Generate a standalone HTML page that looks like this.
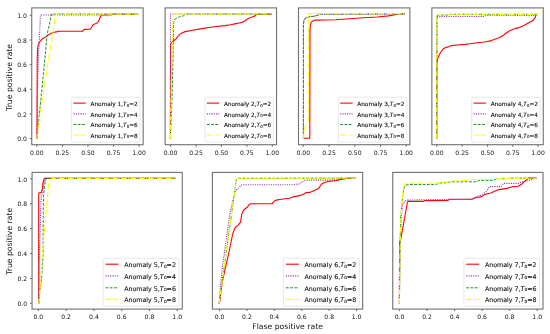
<!DOCTYPE html>
<html><head><meta charset="utf-8"><title>ROC curves</title>
<style>html,body{margin:0;padding:0;background:#fff;}svg{display:block;}</style>
</head><body>
<svg width="550" height="334" viewBox="0 0 550 334" font-family="'DejaVu Sans', 'Liberation Sans', sans-serif" fill="#111" text-rendering="geometricPrecision"><style>text.lg{stroke:#111;stroke-width:0.12px;stroke-linejoin:round}</style>
<rect width="550" height="334" fill="#fff"/>
<clipPath id="c1"><rect x="31.75" y="7.9" width="111.4" height="136.79999999999998"/></clipPath>
<g clip-path="url(#c1)" fill="none" stroke-linejoin="round">
<path d="M37.00,138.60 L37.20,60.00 L37.40,54.00 L37.60,48.50 L38.20,45.20 L39.40,42.00 L40.80,40.40 L42.80,38.40 L46.50,36.60 L49.00,34.40 L52.10,32.80 L57.20,31.60 L58.60,31.20 L82.60,31.20 L84.20,29.40 L89.80,29.30 L91.50,27.60 L93.10,24.80 L95.30,23.80 L97.50,22.70 L99.10,20.00 L100.70,16.00 L101.60,14.90 L111.00,14.80 L111.60,14.30 L138.30,14.30" stroke="#ff0000" stroke-width="1.1"/>
<path d="M36.90,138.60 L37.30,100.00 L38.00,70.00 L39.00,44.00 L39.80,30.00 L40.40,15.00 L111.00,15.00 L111.60,14.40 L138.30,14.40" stroke="#9a3cb8" stroke-width="1.1" stroke-dasharray="1.15 1.15"/>
<path d="M36.90,138.60 L39.80,110.00 L44.00,68.00 L47.20,34.00 L49.70,23.00 L51.50,14.00 L138.30,14.00" stroke="#24922a" stroke-width="1.0" stroke-dasharray="2.9 1.35"/>
<path d="M36.90,138.60 L40.80,110.00 L47.10,68.00 L52.70,34.00 L55.50,14.10 L138.30,14.10" stroke="#ffff00" stroke-width="1.15" stroke-dasharray="5.3 1.35 0.9 1.35"/>
</g>
<rect x="31.75" y="7.90" width="111.40" height="136.80" fill="none" stroke="#707070" stroke-width="1.1"/>
<line x1="36.80" y1="144.70" x2="36.80" y2="146.70" stroke="#707070" stroke-width="1.1"/>
<text x="36.80" y="154.83" font-size="6.1" text-anchor="middle" >0.00</text>
<line x1="62.38" y1="144.70" x2="62.38" y2="146.70" stroke="#707070" stroke-width="1.1"/>
<text x="62.38" y="154.83" font-size="6.1" text-anchor="middle" >0.25</text>
<line x1="87.95" y1="144.70" x2="87.95" y2="146.70" stroke="#707070" stroke-width="1.1"/>
<text x="87.95" y="154.83" font-size="6.1" text-anchor="middle" >0.50</text>
<line x1="113.52" y1="144.70" x2="113.52" y2="146.70" stroke="#707070" stroke-width="1.1"/>
<text x="113.52" y="154.83" font-size="6.1" text-anchor="middle" >0.75</text>
<line x1="139.10" y1="144.70" x2="139.10" y2="146.70" stroke="#707070" stroke-width="1.1"/>
<text x="139.10" y="154.83" font-size="6.1" text-anchor="middle" >1.00</text>
<line x1="29.75" y1="138.57" x2="31.75" y2="138.57" stroke="#707070" stroke-width="1.1"/>
<text x="26.95" y="141.35" font-size="6.1" text-anchor="end" >0.0</text>
<line x1="29.75" y1="113.93" x2="31.75" y2="113.93" stroke="#707070" stroke-width="1.1"/>
<text x="26.95" y="116.71" font-size="6.1" text-anchor="end" >0.2</text>
<line x1="29.75" y1="89.29" x2="31.75" y2="89.29" stroke="#707070" stroke-width="1.1"/>
<text x="26.95" y="92.07" font-size="6.1" text-anchor="end" >0.4</text>
<line x1="29.75" y1="64.65" x2="31.75" y2="64.65" stroke="#707070" stroke-width="1.1"/>
<text x="26.95" y="67.43" font-size="6.1" text-anchor="end" >0.6</text>
<line x1="29.75" y1="40.01" x2="31.75" y2="40.01" stroke="#707070" stroke-width="1.1"/>
<text x="26.95" y="42.79" font-size="6.1" text-anchor="end" >0.8</text>
<line x1="29.75" y1="15.37" x2="31.75" y2="15.37" stroke="#707070" stroke-width="1.1"/>
<text x="26.95" y="18.15" font-size="6.1" text-anchor="end" >1.0</text>
<rect x="71.65" y="97.20" width="68.4" height="44.9" rx="1.2" fill="#fff" fill-opacity="0.8" stroke="#d6d6d6" stroke-width="0.6"/>
<line x1="73.45" y1="103.10" x2="85.85" y2="103.10" stroke="#ff0000" stroke-width="1.1"/>
<text x="90.55" y="105.90" font-size="5.75" class="lg">Anomaly 1,<tspan font-style="italic">T</tspan><tspan font-size="3.91" dx="0.17" dy="0.69">0</tspan><tspan dy="-0.69">=</tspan>2</text>
<line x1="73.45" y1="113.90" x2="85.85" y2="113.90" stroke="#9a3cb8" stroke-width="1.1" stroke-dasharray="1.15 1.15"/>
<text x="90.55" y="116.70" font-size="5.75" class="lg">Anomaly 1,<tspan font-style="italic">T</tspan><tspan font-size="3.91" dx="0.17" dy="0.69">0</tspan><tspan dy="-0.69">=</tspan>4</text>
<line x1="73.45" y1="124.50" x2="85.85" y2="124.50" stroke="#24922a" stroke-width="1.0" stroke-dasharray="2.9 1.35"/>
<text x="90.55" y="127.30" font-size="5.75" class="lg">Anomaly 1,<tspan font-style="italic">T</tspan><tspan font-size="3.91" dx="0.17" dy="0.69">0</tspan><tspan dy="-0.69">=</tspan>6</text>
<line x1="73.45" y1="135.00" x2="85.85" y2="135.00" stroke="#ffff00" stroke-width="1.15" stroke-dasharray="5.3 1.35 0.9 1.35"/>
<text x="90.55" y="137.80" font-size="5.75" class="lg">Anomaly 1,<tspan font-style="italic">T</tspan><tspan font-size="3.91" dx="0.17" dy="0.69">0</tspan><tspan dy="-0.69">=</tspan>8</text>
<clipPath id="c2"><rect x="165.12" y="7.9" width="111.39999999999998" height="136.79999999999998"/></clipPath>
<g clip-path="url(#c2)" fill="none" stroke-linejoin="round">
<path d="M170.40,138.60 L170.60,43.50 L172.20,42.20 L174.20,40.50 L176.20,38.60 L178.20,35.80 L180.90,33.40 L184.20,31.90 L192.40,30.30 L203.30,28.40 L214.20,26.70 L225.10,25.60 L230.50,24.70 L236.00,23.60 L240.10,22.80 L243.60,21.90 L245.70,20.20 L248.20,18.40 L251.30,17.20 L254.30,16.20 L256.90,14.20 L271.80,14.20" stroke="#ff0000" stroke-width="1.1"/>
<path d="M170.40,138.60 L170.50,14.00 L271.80,14.00" stroke="#9a3cb8" stroke-width="1.1" stroke-dasharray="1.15 1.15"/>
<path d="M170.40,138.60 L172.00,100.00 L173.00,60.00 L173.50,25.00 L174.00,21.40 L175.20,18.90 L177.70,17.60 L180.70,16.40 L183.20,16.00 L185.30,14.50 L186.20,14.00 L271.80,14.00" stroke="#24922a" stroke-width="1.0" stroke-dasharray="2.9 1.35"/>
<path d="M170.40,138.60 L171.30,80.00 L173.00,20.00 L173.40,13.80 L271.80,13.80" stroke="#ffff00" stroke-width="1.15" stroke-dasharray="5.3 1.35 0.9 1.35"/>
</g>
<rect x="165.12" y="7.90" width="111.40" height="136.80" fill="none" stroke="#707070" stroke-width="1.1"/>
<line x1="170.60" y1="144.70" x2="170.60" y2="146.70" stroke="#707070" stroke-width="1.1"/>
<text x="170.60" y="154.83" font-size="6.1" text-anchor="middle" >0.00</text>
<line x1="196.03" y1="144.70" x2="196.03" y2="146.70" stroke="#707070" stroke-width="1.1"/>
<text x="196.03" y="154.83" font-size="6.1" text-anchor="middle" >0.25</text>
<line x1="221.45" y1="144.70" x2="221.45" y2="146.70" stroke="#707070" stroke-width="1.1"/>
<text x="221.45" y="154.83" font-size="6.1" text-anchor="middle" >0.50</text>
<line x1="246.88" y1="144.70" x2="246.88" y2="146.70" stroke="#707070" stroke-width="1.1"/>
<text x="246.88" y="154.83" font-size="6.1" text-anchor="middle" >0.75</text>
<line x1="272.30" y1="144.70" x2="272.30" y2="146.70" stroke="#707070" stroke-width="1.1"/>
<text x="272.30" y="154.83" font-size="6.1" text-anchor="middle" >1.00</text>
<rect x="205.02" y="97.20" width="68.4" height="44.9" rx="1.2" fill="#fff" fill-opacity="0.8" stroke="#d6d6d6" stroke-width="0.6"/>
<line x1="206.82" y1="103.10" x2="219.22" y2="103.10" stroke="#ff0000" stroke-width="1.1"/>
<text x="223.92" y="105.90" font-size="5.75" class="lg">Anomaly 2,<tspan font-style="italic">T</tspan><tspan font-size="3.91" dx="0.17" dy="0.69">0</tspan><tspan dy="-0.69">=</tspan>2</text>
<line x1="206.82" y1="113.90" x2="219.22" y2="113.90" stroke="#9a3cb8" stroke-width="1.1" stroke-dasharray="1.15 1.15"/>
<text x="223.92" y="116.70" font-size="5.75" class="lg">Anomaly 2,<tspan font-style="italic">T</tspan><tspan font-size="3.91" dx="0.17" dy="0.69">0</tspan><tspan dy="-0.69">=</tspan>4</text>
<line x1="206.82" y1="124.50" x2="219.22" y2="124.50" stroke="#24922a" stroke-width="1.0" stroke-dasharray="2.9 1.35"/>
<text x="223.92" y="127.30" font-size="5.75" class="lg">Anomaly 2,<tspan font-style="italic">T</tspan><tspan font-size="3.91" dx="0.17" dy="0.69">0</tspan><tspan dy="-0.69">=</tspan>6</text>
<line x1="206.82" y1="135.00" x2="219.22" y2="135.00" stroke="#ffff00" stroke-width="1.15" stroke-dasharray="5.3 1.35 0.9 1.35"/>
<text x="223.92" y="137.80" font-size="5.75" class="lg">Anomaly 2,<tspan font-style="italic">T</tspan><tspan font-size="3.91" dx="0.17" dy="0.69">0</tspan><tspan dy="-0.69">=</tspan>8</text>
<clipPath id="c3"><rect x="298.49" y="7.9" width="111.39999999999998" height="136.79999999999998"/></clipPath>
<g clip-path="url(#c3)" fill="none" stroke-linejoin="round">
<path d="M303.40,138.30 L309.80,138.30 L310.00,30.00 L310.40,25.00 L311.20,22.40 L313.00,20.80 L316.00,20.10 L336.00,19.80 L349.80,18.80 L363.60,17.80 L377.40,17.00 L388.50,15.90 L394.00,15.00 L397.50,14.00 L405.00,13.80" stroke="#ff0000" stroke-width="1.1"/>
<path d="M303.40,138.60 L303.40,24.00 L304.00,20.50 L305.80,17.80 L308.80,16.70 L313.60,16.30 L317.80,15.30 L320.20,14.20 L405.00,14.00" stroke="#9a3cb8" stroke-width="1.1" stroke-dasharray="1.15 1.15"/>
<path d="M303.40,138.60 L303.40,24.00 L304.00,20.50 L305.80,17.80 L308.80,16.70 L313.60,16.30 L317.80,15.30 L320.20,14.20 L405.00,14.00" stroke="#24922a" stroke-width="1.0" stroke-dasharray="2.9 1.35"/>
<path d="M303.40,138.60 L304.70,128.10 L306.50,124.60 L308.30,121.00 L308.50,13.60 L405.00,13.60" stroke="#ffff00" stroke-width="1.15" stroke-dasharray="5.3 1.35 0.9 1.35"/>
</g>
<rect x="298.49" y="7.90" width="111.40" height="136.80" fill="none" stroke="#707070" stroke-width="1.1"/>
<line x1="303.30" y1="144.70" x2="303.30" y2="146.70" stroke="#707070" stroke-width="1.1"/>
<text x="303.30" y="154.83" font-size="6.1" text-anchor="middle" >0.00</text>
<line x1="329.02" y1="144.70" x2="329.02" y2="146.70" stroke="#707070" stroke-width="1.1"/>
<text x="329.02" y="154.83" font-size="6.1" text-anchor="middle" >0.25</text>
<line x1="354.75" y1="144.70" x2="354.75" y2="146.70" stroke="#707070" stroke-width="1.1"/>
<text x="354.75" y="154.83" font-size="6.1" text-anchor="middle" >0.50</text>
<line x1="380.48" y1="144.70" x2="380.48" y2="146.70" stroke="#707070" stroke-width="1.1"/>
<text x="380.48" y="154.83" font-size="6.1" text-anchor="middle" >0.75</text>
<line x1="406.20" y1="144.70" x2="406.20" y2="146.70" stroke="#707070" stroke-width="1.1"/>
<text x="406.20" y="154.83" font-size="6.1" text-anchor="middle" >1.00</text>
<rect x="338.39" y="97.20" width="68.4" height="44.9" rx="1.2" fill="#fff" fill-opacity="0.8" stroke="#d6d6d6" stroke-width="0.6"/>
<line x1="340.19" y1="103.10" x2="352.59" y2="103.10" stroke="#ff0000" stroke-width="1.1"/>
<text x="357.29" y="105.90" font-size="5.75" class="lg">Anomaly 3,<tspan font-style="italic">T</tspan><tspan font-size="3.91" dx="0.17" dy="0.69">0</tspan><tspan dy="-0.69">=</tspan>2</text>
<line x1="340.19" y1="113.90" x2="352.59" y2="113.90" stroke="#9a3cb8" stroke-width="1.1" stroke-dasharray="1.15 1.15"/>
<text x="357.29" y="116.70" font-size="5.75" class="lg">Anomaly 3,<tspan font-style="italic">T</tspan><tspan font-size="3.91" dx="0.17" dy="0.69">0</tspan><tspan dy="-0.69">=</tspan>4</text>
<line x1="340.19" y1="124.50" x2="352.59" y2="124.50" stroke="#24922a" stroke-width="1.0" stroke-dasharray="2.9 1.35"/>
<text x="357.29" y="127.30" font-size="5.75" class="lg">Anomaly 3,<tspan font-style="italic">T</tspan><tspan font-size="3.91" dx="0.17" dy="0.69">0</tspan><tspan dy="-0.69">=</tspan>6</text>
<line x1="340.19" y1="135.00" x2="352.59" y2="135.00" stroke="#ffff00" stroke-width="1.15" stroke-dasharray="5.3 1.35 0.9 1.35"/>
<text x="357.29" y="137.80" font-size="5.75" class="lg">Anomaly 3,<tspan font-style="italic">T</tspan><tspan font-size="3.91" dx="0.17" dy="0.69">0</tspan><tspan dy="-0.69">=</tspan>8</text>
<clipPath id="c4"><rect x="431.86" y="7.9" width="111.39999999999998" height="136.79999999999998"/></clipPath>
<g clip-path="url(#c4)" fill="none" stroke-linejoin="round">
<path d="M436.70,138.60 L436.80,66.00 L437.60,58.70 L439.40,54.50 L441.20,51.50 L443.60,48.60 L446.00,47.40 L449.00,46.80 L450.80,45.60 L458.00,45.00 L465.00,44.40 L470.00,43.80 L477.30,42.70 L484.50,42.00 L490.40,40.90 L494.00,39.50 L499.10,37.80 L503.50,35.30 L507.00,32.50 L510.20,30.40 L515.30,28.40 L519.30,27.60 L524.40,25.30 L529.50,22.30 L532.60,20.80 L535.10,17.70 L536.10,14.60 L537.40,14.30" stroke="#ff0000" stroke-width="1.1"/>
<path d="M436.70,138.60 L437.00,16.60 L484.50,16.40 L485.50,15.40 L537.40,15.40" stroke="#9a3cb8" stroke-width="1.1" stroke-dasharray="1.15 1.15"/>
<path d="M436.70,138.60 L436.90,15.20 L448.00,15.00 L450.00,14.30 L537.40,14.30" stroke="#24922a" stroke-width="1.0" stroke-dasharray="2.9 1.35"/>
<path d="M436.70,138.60 L436.90,15.00 L537.40,14.50" stroke="#ffff00" stroke-width="1.15" stroke-dasharray="5.3 1.35 0.9 1.35"/>
</g>
<rect x="431.86" y="7.90" width="111.40" height="136.80" fill="none" stroke="#707070" stroke-width="1.1"/>
<line x1="436.80" y1="144.70" x2="436.80" y2="146.70" stroke="#707070" stroke-width="1.1"/>
<text x="436.80" y="154.83" font-size="6.1" text-anchor="middle" >0.00</text>
<line x1="462.12" y1="144.70" x2="462.12" y2="146.70" stroke="#707070" stroke-width="1.1"/>
<text x="462.12" y="154.83" font-size="6.1" text-anchor="middle" >0.25</text>
<line x1="487.45" y1="144.70" x2="487.45" y2="146.70" stroke="#707070" stroke-width="1.1"/>
<text x="487.45" y="154.83" font-size="6.1" text-anchor="middle" >0.50</text>
<line x1="512.77" y1="144.70" x2="512.77" y2="146.70" stroke="#707070" stroke-width="1.1"/>
<text x="512.77" y="154.83" font-size="6.1" text-anchor="middle" >0.75</text>
<line x1="538.10" y1="144.70" x2="538.10" y2="146.70" stroke="#707070" stroke-width="1.1"/>
<text x="538.10" y="154.83" font-size="6.1" text-anchor="middle" >1.00</text>
<rect x="471.76" y="97.20" width="68.4" height="44.9" rx="1.2" fill="#fff" fill-opacity="0.8" stroke="#d6d6d6" stroke-width="0.6"/>
<line x1="473.56" y1="103.10" x2="485.96" y2="103.10" stroke="#ff0000" stroke-width="1.1"/>
<text x="490.66" y="105.90" font-size="5.75" class="lg">Anomaly 4,<tspan font-style="italic">T</tspan><tspan font-size="3.91" dx="0.17" dy="0.69">0</tspan><tspan dy="-0.69">=</tspan>2</text>
<line x1="473.56" y1="113.90" x2="485.96" y2="113.90" stroke="#9a3cb8" stroke-width="1.1" stroke-dasharray="1.15 1.15"/>
<text x="490.66" y="116.70" font-size="5.75" class="lg">Anomaly 4,<tspan font-style="italic">T</tspan><tspan font-size="3.91" dx="0.17" dy="0.69">0</tspan><tspan dy="-0.69">=</tspan>4</text>
<line x1="473.56" y1="124.50" x2="485.96" y2="124.50" stroke="#24922a" stroke-width="1.0" stroke-dasharray="2.9 1.35"/>
<text x="490.66" y="127.30" font-size="5.75" class="lg">Anomaly 4,<tspan font-style="italic">T</tspan><tspan font-size="3.91" dx="0.17" dy="0.69">0</tspan><tspan dy="-0.69">=</tspan>6</text>
<line x1="473.56" y1="135.00" x2="485.96" y2="135.00" stroke="#ffff00" stroke-width="1.15" stroke-dasharray="5.3 1.35 0.9 1.35"/>
<text x="490.66" y="137.80" font-size="5.75" class="lg">Anomaly 4,<tspan font-style="italic">T</tspan><tspan font-size="3.91" dx="0.17" dy="0.69">0</tspan><tspan dy="-0.69">=</tspan>8</text>
<clipPath id="c5"><rect x="32.05" y="172.4" width="150.25" height="136.70000000000002"/></clipPath>
<g clip-path="url(#c5)" fill="none" stroke-linejoin="round">
<path d="M38.70,303.40 L38.70,193.00 L41.20,192.60 L42.40,188.80 L43.00,182.80 L44.20,178.40 L175.90,178.40" stroke="#ff0000" stroke-width="1.1"/>
<path d="M38.70,303.40 L39.40,256.00 L40.00,235.00 L41.00,200.00 L41.80,194.00 L43.00,189.00 L44.80,179.20 L45.50,178.40 L175.90,178.40" stroke="#9a3cb8" stroke-width="1.1" stroke-dasharray="1.15 1.15"/>
<path d="M38.70,303.40 L39.70,290.40 L41.20,283.00 L43.00,256.00 L43.30,210.00 L43.60,195.00 L44.80,184.00 L46.00,179.20 L47.00,178.40 L175.90,178.40" stroke="#24922a" stroke-width="1.0" stroke-dasharray="2.9 1.35"/>
<path d="M38.70,303.40 L40.60,284.40 L42.20,256.00 L46.30,210.00 L48.10,190.00 L49.00,183.40 L51.40,179.00 L52.50,178.40 L175.90,178.40" stroke="#ffff00" stroke-width="1.15" stroke-dasharray="5.3 1.35 0.9 1.35"/>
</g>
<rect x="32.05" y="172.40" width="150.25" height="136.70" fill="none" stroke="#707070" stroke-width="1.1"/>
<line x1="38.40" y1="309.10" x2="38.40" y2="311.10" stroke="#707070" stroke-width="1.1"/>
<text x="38.40" y="319.03" font-size="6.1" text-anchor="middle" >0.0</text>
<line x1="66.16" y1="309.10" x2="66.16" y2="311.10" stroke="#707070" stroke-width="1.1"/>
<text x="66.16" y="319.03" font-size="6.1" text-anchor="middle" >0.2</text>
<line x1="93.92" y1="309.10" x2="93.92" y2="311.10" stroke="#707070" stroke-width="1.1"/>
<text x="93.92" y="319.03" font-size="6.1" text-anchor="middle" >0.4</text>
<line x1="121.68" y1="309.10" x2="121.68" y2="311.10" stroke="#707070" stroke-width="1.1"/>
<text x="121.68" y="319.03" font-size="6.1" text-anchor="middle" >0.6</text>
<line x1="149.44" y1="309.10" x2="149.44" y2="311.10" stroke="#707070" stroke-width="1.1"/>
<text x="149.44" y="319.03" font-size="6.1" text-anchor="middle" >0.8</text>
<line x1="177.20" y1="309.10" x2="177.20" y2="311.10" stroke="#707070" stroke-width="1.1"/>
<text x="177.20" y="319.03" font-size="6.1" text-anchor="middle" >1.0</text>
<line x1="30.05" y1="303.38" x2="32.05" y2="303.38" stroke="#707070" stroke-width="1.1"/>
<text x="27.25" y="306.16" font-size="6.1" text-anchor="end" >0.0</text>
<line x1="30.05" y1="278.45" x2="32.05" y2="278.45" stroke="#707070" stroke-width="1.1"/>
<text x="27.25" y="281.23" font-size="6.1" text-anchor="end" >0.2</text>
<line x1="30.05" y1="253.53" x2="32.05" y2="253.53" stroke="#707070" stroke-width="1.1"/>
<text x="27.25" y="256.30" font-size="6.1" text-anchor="end" >0.4</text>
<line x1="30.05" y1="228.60" x2="32.05" y2="228.60" stroke="#707070" stroke-width="1.1"/>
<text x="27.25" y="231.38" font-size="6.1" text-anchor="end" >0.6</text>
<line x1="30.05" y1="203.68" x2="32.05" y2="203.68" stroke="#707070" stroke-width="1.1"/>
<text x="27.25" y="206.45" font-size="6.1" text-anchor="end" >0.8</text>
<line x1="30.05" y1="178.75" x2="32.05" y2="178.75" stroke="#707070" stroke-width="1.1"/>
<text x="27.25" y="181.53" font-size="6.1" text-anchor="end" >1.0</text>
<rect x="103.20" y="258.30" width="75.8" height="47.8" rx="1.2" fill="#fff" fill-opacity="0.8" stroke="#d6d6d6" stroke-width="0.6"/>
<line x1="105.50" y1="264.20" x2="118.50" y2="264.20" stroke="#ff0000" stroke-width="1.1"/>
<text x="124.20" y="266.90" font-size="6.3" class="lg">Anomaly 5,<tspan font-style="italic">T</tspan><tspan font-size="4.28" dx="0.19" dy="0.76">0</tspan><tspan dy="-0.76">=</tspan>2</text>
<line x1="105.50" y1="275.90" x2="118.50" y2="275.90" stroke="#9a3cb8" stroke-width="1.1" stroke-dasharray="1.15 1.15"/>
<text x="124.20" y="278.60" font-size="6.3" class="lg">Anomaly 5,<tspan font-style="italic">T</tspan><tspan font-size="4.28" dx="0.19" dy="0.76">0</tspan><tspan dy="-0.76">=</tspan>4</text>
<line x1="105.50" y1="287.80" x2="118.50" y2="287.80" stroke="#24922a" stroke-width="1.0" stroke-dasharray="2.9 1.35"/>
<text x="124.20" y="290.50" font-size="6.3" class="lg">Anomaly 5,<tspan font-style="italic">T</tspan><tspan font-size="4.28" dx="0.19" dy="0.76">0</tspan><tspan dy="-0.76">=</tspan>6</text>
<line x1="105.50" y1="299.20" x2="118.50" y2="299.20" stroke="#ffff00" stroke-width="1.15" stroke-dasharray="5.3 1.35 0.9 1.35"/>
<text x="124.20" y="301.90" font-size="6.3" class="lg">Anomaly 5,<tspan font-style="italic">T</tspan><tspan font-size="4.28" dx="0.19" dy="0.76">0</tspan><tspan dy="-0.76">=</tspan>8</text>
<clipPath id="c6"><rect x="212.39999999999998" y="172.4" width="150.25" height="136.70000000000002"/></clipPath>
<g clip-path="url(#c6)" fill="none" stroke-linejoin="round">
<path d="M219.10,303.40 L219.90,301.00 L222.00,283.20 L225.50,267.40 L229.00,252.00 L231.60,239.50 L232.80,233.50 L235.20,227.50 L238.20,225.10 L240.60,222.20 L241.70,214.40 L243.50,210.20 L247.10,207.30 L249.50,204.20 L251.00,203.70 L272.20,203.70 L274.00,201.30 L276.30,200.10 L281.10,199.30 L289.50,198.30 L294.30,196.60 L300.30,195.40 L303.30,194.20 L306.30,192.60 L309.60,192.40 L313.20,190.90 L318.00,188.80 L319.80,186.60 L321.60,184.00 L325.20,182.20 L328.80,181.30 L336.00,180.60 L340.70,179.40 L345.50,178.60 L348.00,178.20 L356.10,178.20" stroke="#ff0000" stroke-width="1.1"/>
<path d="M219.10,303.40 L220.60,285.00 L222.30,268.00 L226.70,236.00 L229.80,214.00 L234.80,191.80 L241.70,184.80 L292.50,184.80 L295.50,184.30 L299.10,184.00 L302.70,181.60 L305.10,180.10 L333.50,180.10 L338.00,178.30 L356.10,178.30" stroke="#9a3cb8" stroke-width="1.1" stroke-dasharray="1.15 1.15"/>
<path d="M219.10,303.40 L236.40,179.20 L237.60,178.20 L356.10,178.20" stroke="#24922a" stroke-width="1.0" stroke-dasharray="2.9 1.35"/>
<path d="M219.10,303.40 L236.40,179.20 L237.60,178.20 L356.10,178.20" stroke="#ffff00" stroke-width="1.15" stroke-dasharray="5.3 1.35 0.9 1.35"/>
</g>
<rect x="212.40" y="172.40" width="150.25" height="136.70" fill="none" stroke="#707070" stroke-width="1.1"/>
<line x1="219.50" y1="309.10" x2="219.50" y2="311.10" stroke="#707070" stroke-width="1.1"/>
<text x="219.50" y="319.03" font-size="6.1" text-anchor="middle" >0.0</text>
<line x1="246.92" y1="309.10" x2="246.92" y2="311.10" stroke="#707070" stroke-width="1.1"/>
<text x="246.92" y="319.03" font-size="6.1" text-anchor="middle" >0.2</text>
<line x1="274.34" y1="309.10" x2="274.34" y2="311.10" stroke="#707070" stroke-width="1.1"/>
<text x="274.34" y="319.03" font-size="6.1" text-anchor="middle" >0.4</text>
<line x1="301.76" y1="309.10" x2="301.76" y2="311.10" stroke="#707070" stroke-width="1.1"/>
<text x="301.76" y="319.03" font-size="6.1" text-anchor="middle" >0.6</text>
<line x1="329.18" y1="309.10" x2="329.18" y2="311.10" stroke="#707070" stroke-width="1.1"/>
<text x="329.18" y="319.03" font-size="6.1" text-anchor="middle" >0.8</text>
<line x1="356.60" y1="309.10" x2="356.60" y2="311.10" stroke="#707070" stroke-width="1.1"/>
<text x="356.60" y="319.03" font-size="6.1" text-anchor="middle" >1.0</text>
<rect x="283.55" y="258.30" width="75.8" height="47.8" rx="1.2" fill="#fff" fill-opacity="0.8" stroke="#d6d6d6" stroke-width="0.6"/>
<line x1="285.85" y1="264.20" x2="298.85" y2="264.20" stroke="#ff0000" stroke-width="1.1"/>
<text x="304.55" y="266.90" font-size="6.3" class="lg">Anomaly 6,<tspan font-style="italic">T</tspan><tspan font-size="4.28" dx="0.19" dy="0.76">0</tspan><tspan dy="-0.76">=</tspan>2</text>
<line x1="285.85" y1="275.90" x2="298.85" y2="275.90" stroke="#9a3cb8" stroke-width="1.1" stroke-dasharray="1.15 1.15"/>
<text x="304.55" y="278.60" font-size="6.3" class="lg">Anomaly 6,<tspan font-style="italic">T</tspan><tspan font-size="4.28" dx="0.19" dy="0.76">0</tspan><tspan dy="-0.76">=</tspan>4</text>
<line x1="285.85" y1="287.80" x2="298.85" y2="287.80" stroke="#24922a" stroke-width="1.0" stroke-dasharray="2.9 1.35"/>
<text x="304.55" y="290.50" font-size="6.3" class="lg">Anomaly 6,<tspan font-style="italic">T</tspan><tspan font-size="4.28" dx="0.19" dy="0.76">0</tspan><tspan dy="-0.76">=</tspan>6</text>
<line x1="285.85" y1="299.20" x2="298.85" y2="299.20" stroke="#ffff00" stroke-width="1.15" stroke-dasharray="5.3 1.35 0.9 1.35"/>
<text x="304.55" y="301.90" font-size="6.3" class="lg">Anomaly 6,<tspan font-style="italic">T</tspan><tspan font-size="4.28" dx="0.19" dy="0.76">0</tspan><tspan dy="-0.76">=</tspan>8</text>
<clipPath id="c7"><rect x="392.75" y="172.4" width="150.25" height="136.70000000000002"/></clipPath>
<g clip-path="url(#c7)" fill="none" stroke-linejoin="round">
<path d="M399.40,303.40 L399.60,242.00 L400.70,239.60 L407.50,202.00 L408.00,201.40 L423.50,201.40 L424.50,200.60 L448.00,200.50 L449.00,199.30 L471.90,199.30 L475.50,197.70 L481.50,196.60 L485.10,194.20 L490.80,193.00 L498.70,189.60 L506.90,188.40 L513.30,186.50 L518.30,186.30 L521.90,184.00 L525.50,180.60 L527.90,178.60 L529.00,178.00 L536.40,178.00" stroke="#ff0000" stroke-width="1.1"/>
<path d="M399.40,303.40 L400.20,240.00 L401.50,215.00 L402.40,205.00 L405.20,200.70 L406.00,200.20 L430.00,199.60 L471.90,199.40 L475.50,197.10 L481.50,194.80 L486.30,191.60 L488.30,188.40 L489.50,186.60 L501.50,186.60 L503.30,183.40 L518.30,183.40 L521.90,181.80 L526.70,181.00 L532.70,179.20 L536.30,178.00 L536.40,178.00" stroke="#9a3cb8" stroke-width="1.1" stroke-dasharray="1.15 1.15"/>
<path d="M399.40,303.40 L400.00,250.00 L400.70,215.00 L401.40,211.50 L402.60,196.00 L403.80,188.80 L405.60,185.20 L409.00,184.50 L436.00,184.40 L440.00,183.00 L448.00,182.60 L450.00,181.80 L477.00,181.80 L479.00,180.40 L493.30,180.40 L496.00,178.80 L507.80,178.60 L509.00,178.20 L536.40,178.10" stroke="#24922a" stroke-width="1.0" stroke-dasharray="2.9 1.35"/>
<path d="M399.40,303.40 L400.00,250.00 L401.00,215.00 L402.60,196.00 L403.50,188.00 L404.40,184.00 L406.00,183.10 L439.00,183.00 L441.00,182.20 L448.00,182.10 L450.00,181.00 L470.00,180.60 L471.50,179.50 L493.00,179.50 L495.00,178.50 L536.40,178.20" stroke="#ffff00" stroke-width="1.15" stroke-dasharray="5.3 1.35 0.9 1.35"/>
</g>
<rect x="392.75" y="172.40" width="150.25" height="136.70" fill="none" stroke="#707070" stroke-width="1.1"/>
<line x1="399.50" y1="309.10" x2="399.50" y2="311.10" stroke="#707070" stroke-width="1.1"/>
<text x="399.50" y="319.03" font-size="6.1" text-anchor="middle" >0.0</text>
<line x1="427.04" y1="309.10" x2="427.04" y2="311.10" stroke="#707070" stroke-width="1.1"/>
<text x="427.04" y="319.03" font-size="6.1" text-anchor="middle" >0.2</text>
<line x1="454.58" y1="309.10" x2="454.58" y2="311.10" stroke="#707070" stroke-width="1.1"/>
<text x="454.58" y="319.03" font-size="6.1" text-anchor="middle" >0.4</text>
<line x1="482.12" y1="309.10" x2="482.12" y2="311.10" stroke="#707070" stroke-width="1.1"/>
<text x="482.12" y="319.03" font-size="6.1" text-anchor="middle" >0.6</text>
<line x1="509.66" y1="309.10" x2="509.66" y2="311.10" stroke="#707070" stroke-width="1.1"/>
<text x="509.66" y="319.03" font-size="6.1" text-anchor="middle" >0.8</text>
<line x1="537.20" y1="309.10" x2="537.20" y2="311.10" stroke="#707070" stroke-width="1.1"/>
<text x="537.20" y="319.03" font-size="6.1" text-anchor="middle" >1.0</text>
<rect x="463.90" y="258.30" width="75.8" height="47.8" rx="1.2" fill="#fff" fill-opacity="0.8" stroke="#d6d6d6" stroke-width="0.6"/>
<line x1="466.20" y1="264.20" x2="479.20" y2="264.20" stroke="#ff0000" stroke-width="1.1"/>
<text x="484.90" y="266.90" font-size="6.3" class="lg">Anomaly 7,<tspan font-style="italic">T</tspan><tspan font-size="4.28" dx="0.19" dy="0.76">0</tspan><tspan dy="-0.76">=</tspan>2</text>
<line x1="466.20" y1="275.90" x2="479.20" y2="275.90" stroke="#9a3cb8" stroke-width="1.1" stroke-dasharray="1.15 1.15"/>
<text x="484.90" y="278.60" font-size="6.3" class="lg">Anomaly 7,<tspan font-style="italic">T</tspan><tspan font-size="4.28" dx="0.19" dy="0.76">0</tspan><tspan dy="-0.76">=</tspan>4</text>
<line x1="466.20" y1="287.80" x2="479.20" y2="287.80" stroke="#24922a" stroke-width="1.0" stroke-dasharray="2.9 1.35"/>
<text x="484.90" y="290.50" font-size="6.3" class="lg">Anomaly 7,<tspan font-style="italic">T</tspan><tspan font-size="4.28" dx="0.19" dy="0.76">0</tspan><tspan dy="-0.76">=</tspan>6</text>
<line x1="466.20" y1="299.20" x2="479.20" y2="299.20" stroke="#ffff00" stroke-width="1.15" stroke-dasharray="5.3 1.35 0.9 1.35"/>
<text x="484.90" y="301.90" font-size="6.3" class="lg">Anomaly 7,<tspan font-style="italic">T</tspan><tspan font-size="4.28" dx="0.19" dy="0.76">0</tspan><tspan dy="-0.76">=</tspan>8</text>
<text transform="translate(11.9,77.4) rotate(-90)" x="0" y="0" font-size="7.7" text-anchor="middle">True positive rate</text>
<text transform="translate(11.9,241.3) rotate(-90)" x="0" y="0" font-size="7.7" text-anchor="middle">True positive rate</text>
<text x="287.60" y="329.00" font-size="7.7" text-anchor="middle" >Flase positive rate</text>
</svg>
</body></html>
